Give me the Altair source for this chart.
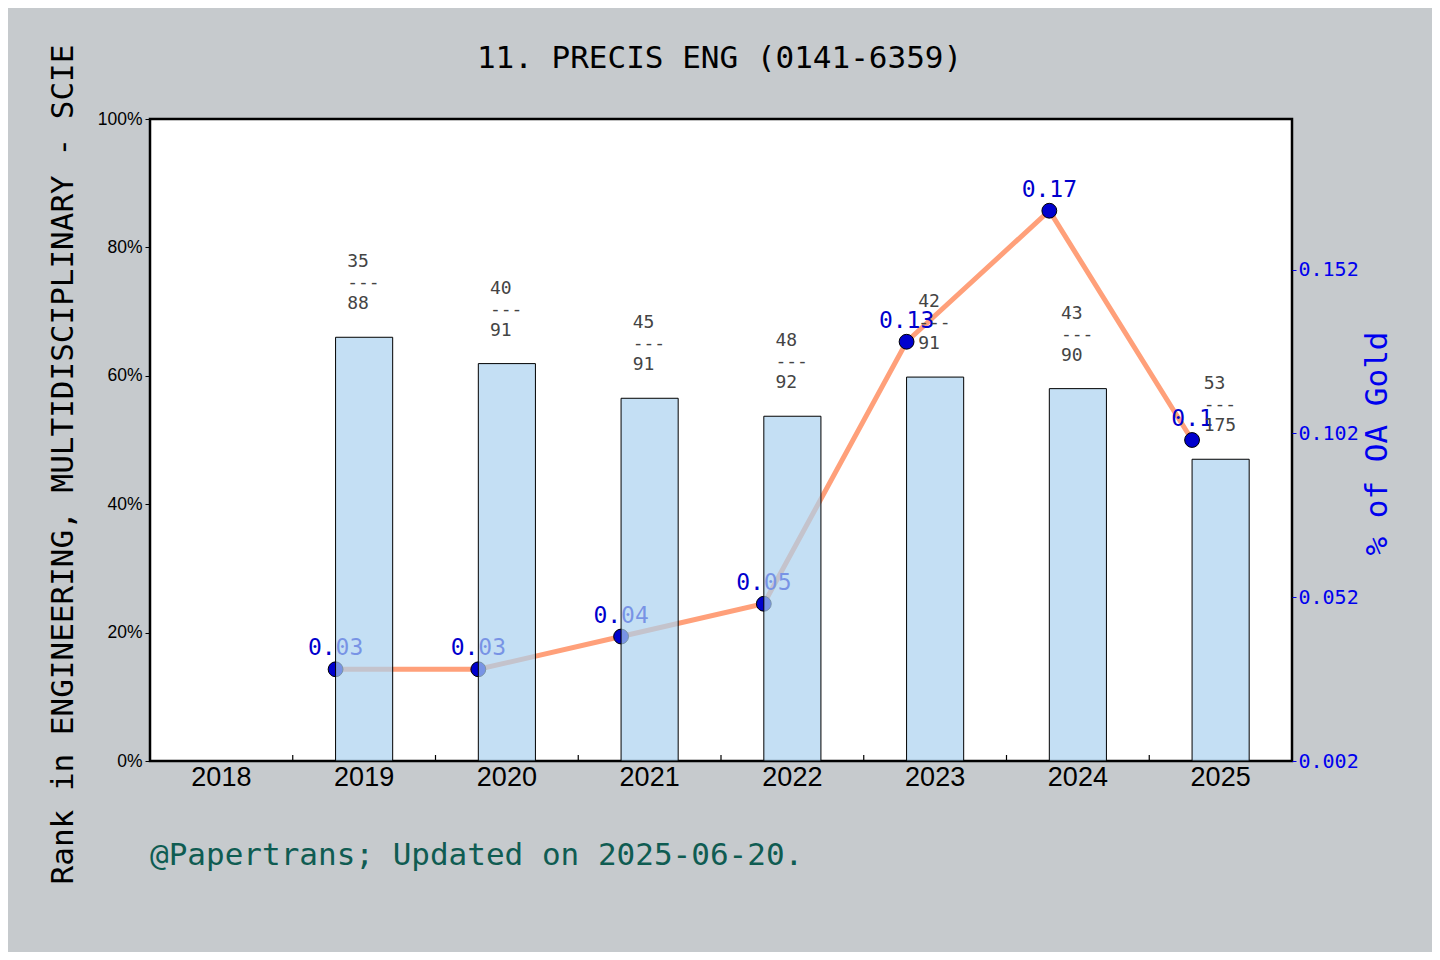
import altair as alt
import pandas as pd

# ---- data ----
years = ["2018", "2019", "2020", "2021", "2022", "2023", "2024", "2025"]
bar_years = ["2019", "2020", "2021", "2022", "2023", "2024", "2025"]
bar_share = [0.660, 0.619, 0.565, 0.537, 0.598, 0.580, 0.470]
ranks = [35, 40, 45, 48, 42, 43, 53]
totals = [88, 91, 91, 92, 91, 90, 175]
oa_gold = [0.03, 0.03, 0.04, 0.05, 0.13, 0.17, 0.10]
oa_text = ["0.03", "0.03", "0.04", "0.05", "0.13", "0.17", "0.1"]
left_ticks = [0, 0.2, 0.4, 0.6, 0.8, 1.0]
right_ticks = [0.002, 0.052, 0.102, 0.152]
title_text = "11. PRECIS ENG (0141-6359)"
left_title = "Rank in ENGINEERING, MULTIDISCIPLINARY - SCIE"
right_title = "% of OA Gold"
footer_text = "@Papertrans; Updated on 2025-06-20."

df = pd.DataFrame({
    "year": bar_years,
    "share": bar_share,
    "label": [f"{r}\n---\n{t}" for r, t in zip(ranks, totals)],
    "oa": oa_gold,
    "oa_label": oa_text,
})
df_years = pd.DataFrame({"year": years})
df_footer = pd.DataFrame({"t": [footer_text]})
df_title = pd.DataFrame({"t": [title_text]})

MONO = "DejaVu Sans Mono"
SANS = "Liberation Sans"
W, H = 1142, 642

xscale = alt.Scale(type="band", domain=years, paddingInner=0, paddingOuter=0)
x_axis = alt.Axis(orient="bottom", ticks=False, domain=False, grid=False, labelAngle=0,
                  title=None, labelFont=SANS, labelFontSize=27, labelColor="black",
                  labelPadding=3)

y_right = alt.Y("oa:Q",
                scale=alt.Scale(domain=[0.002, 0.198], nice=False, zero=False),
                axis=alt.Axis(orient="right", values=right_ticks, format=".3f", grid=False,
                              domain=False, tickSize=4, tickColor="#0000ee",
                              labelColor="#0000ee", labelFont=MONO, labelFontSize=20,
                              labelPadding=2, title=right_title, titleColor="#0000ee",
                              titleFont=MONO, titleFontSize=31, titleFontWeight="normal",
                              titleAngle=270, titleX=85, titleY=324,
                              titleBaseline="middle", titleAlign="center"))

y_left = alt.Y("share:Q",
               scale=alt.Scale(domain=[0, 1], nice=False),
               axis=alt.Axis(orient="left", values=left_ticks, format=".0%", grid=False,
                             domain=False, tickSize=5, tickColor="black",
                             labelColor="black", labelFont=SANS, labelFontSize=17.5,
                             labelPadding=3, title=left_title, titleColor="black",
                             titleFont=MONO, titleFontSize=31, titleFontWeight="normal",
                             titleAngle=270, titleX=-87, titleY=345,
                             titleBaseline="middle", titleAlign="center"))

x_pt = alt.X("year:N", scale=xscale, axis=x_axis, bandPosition=0.3)
x_mid = alt.X("year:N", scale=xscale, axis=x_axis)

line = alt.Chart(df).mark_line(color="#ffa07a", strokeWidth=5).encode(x=x_pt, y=y_right)
points = alt.Chart(df).mark_point(filled=True, size=220, color="#0000cd", stroke="black",
                                  strokeWidth=1, opacity=1).encode(x=x_pt, y=y_right)
oa_labels = alt.Chart(df).mark_text(font=MONO, fontSize=23, color="#0000cd", align="center",
                                    baseline="alphabetic", dy=-14).encode(
    x=x_pt, y=y_right, text="oa_label:N")
oa_layer = alt.layer(line, points, oa_labels)

bars = alt.Chart(df).mark_bar(width=alt.RelativeBandSize(0.4), color="#abd1ef",
                              fillOpacity=0.7, stroke="black", strokeWidth=1).encode(
    x=x_mid, y=y_left)
bar_labels = alt.Chart(df).mark_text(font=MONO, fontSize=18, color="#444444", align="left",
                                     baseline="middle", lineBreak="\n", lineHeight=21,
                                     dx=-17, dy=-75).encode(
    x=x_mid, y=y_left, text="label:N")
bar_layer = alt.layer(bars, bar_labels)

ticks = alt.Chart(df_years).mark_rule(color="black", strokeWidth=1.2).encode(
    x=alt.X("year:N", scale=xscale, axis=x_axis, bandPosition=0),
    y=alt.value(H - 6), y2=alt.value(H))

footer = alt.Chart(df_footer).mark_text(font=MONO, fontSize=31, color="#0f5c52",
                                        align="left", baseline="alphabetic").encode(
    x=alt.value(0), y=alt.value(746), text="t:N")

title = alt.Chart(df_title).mark_text(font=MONO, fontSize=31, color="black",
                                      align="center", baseline="alphabetic").encode(
    x=alt.value(W / 2 - 1.5), y=alt.value(-51), text="t:N")

chart = alt.layer(oa_layer, bar_layer, ticks, footer, title).resolve_scale(
    y="independent"
).properties(
    width=W, height=H,
    autosize=alt.AutoSizeParams(type="none"),
    padding={"left": 142, "top": 111, "right": 140, "bottom": 191},
    background="#c6cacd",
).configure_view(
    stroke="black", strokeWidth=2.5, fill="white"
)

chart.save("out.html", embed_options={"renderer": "svg", "actions": False})
